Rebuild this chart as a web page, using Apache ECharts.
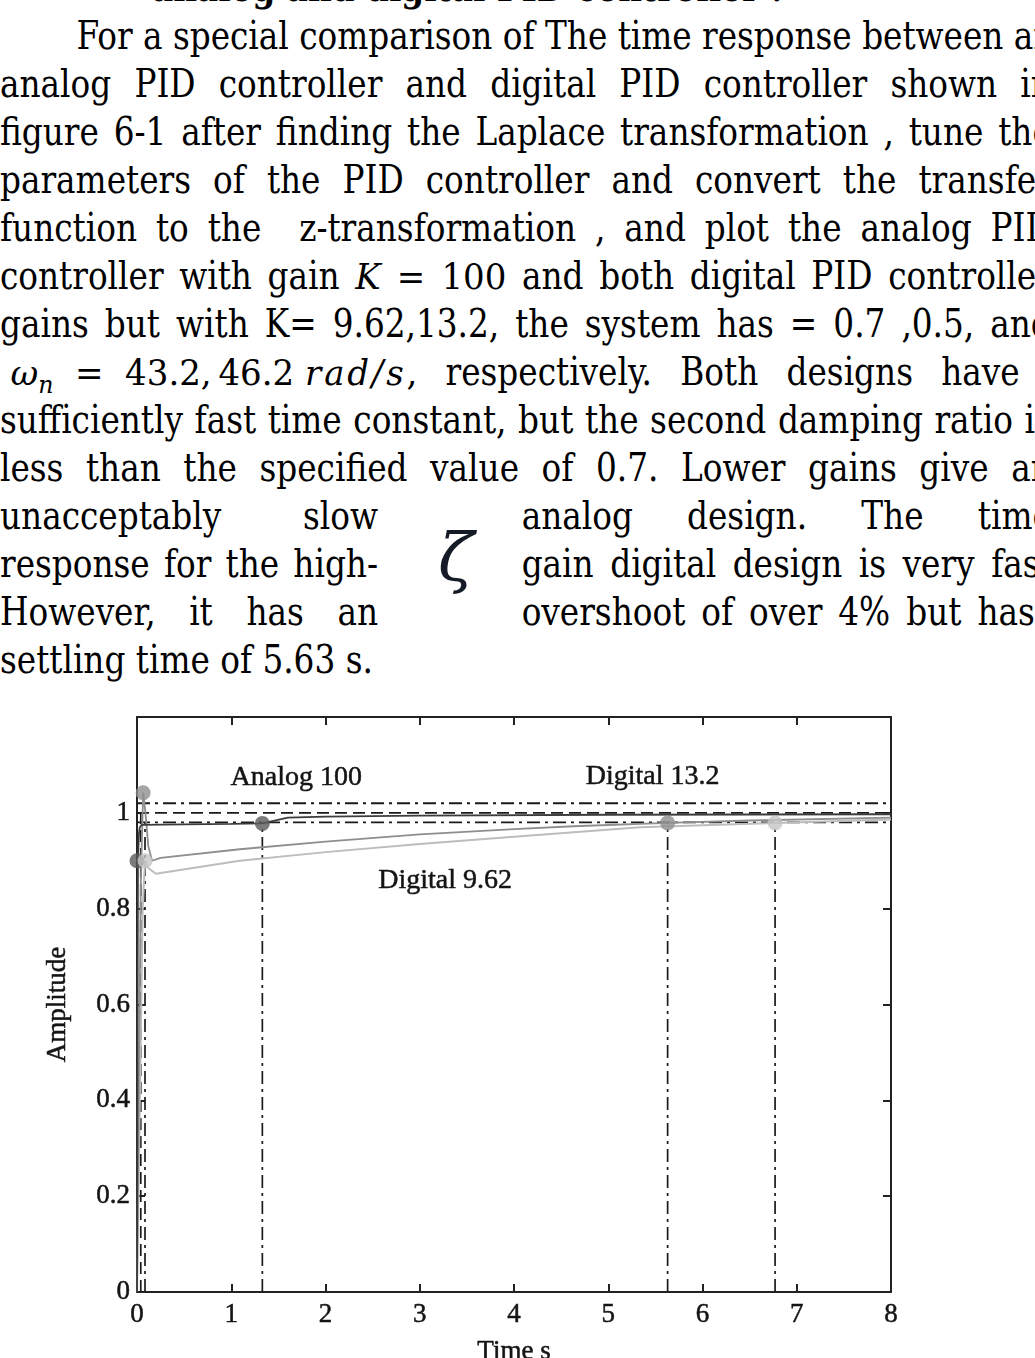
<!DOCTYPE html>
<html>
<head>
<meta charset="utf-8">
<script src="https://cdn.jsdelivr.net/npm/echarts@6/dist/echarts.min.js"></script>
<style>
html,body{margin:0;padding:0;background:#fff;}
body{width:1035px;height:1358px;overflow:hidden;position:relative;}
#head{position:absolute;left:152px;top:-36px;font-family:"DejaVu Serif Condensed","DejaVu Serif",serif;font-weight:bold;font-size:38.5px;line-height:48px;color:#000;white-space:nowrap;transform:scaleX(0.945);transform-origin:0 0;}
#txt{position:absolute;left:0;top:12px;width:1113px;font-family:"DejaVu Serif Condensed","DejaVu Serif",serif;font-size:38.5px;line-height:48px;color:#000;transform:scaleX(0.945);transform-origin:0 0;}
.l{height:48px;overflow:hidden;text-align:justify;text-align-last:justify;}
.nat{text-align:left;text-align-last:left;white-space:nowrap;}
.m{font-family:"DejaVu Serif",serif;font-size:36px;}
.mb{display:inline-block;white-space:nowrap;}
.m i{font-style:italic;}
.rs{letter-spacing:3px;}
.cols{display:flex;height:48px;overflow:hidden;}
.cl{width:400px;text-align:justify;text-align-last:justify;}
.cr{flex:1;margin-left:152px;text-align:justify;text-align-last:justify;}
.plain{height:48px;}
#zeta{position:absolute;left:438px;top:518px;font-family:"DejaVu Serif",serif;font-style:italic;font-size:66px;line-height:80px;color:#141a26;}
#chart{position:absolute;left:0;top:690px;width:1035px;height:668px;}
</style>
</head>
<body>
<div id="head">analog and digital PID controller :</div>
<div id="txt">
<div class="l nat" style="padding-left:81px">For a special comparison of The time response between an</div>
<div class="l">analog PID controller and digital PID controller shown in</div>
<div class="l">figure 6-1 after finding the Laplace transformation , tune the</div>
<div class="l">parameters of the PID controller and convert the transfer</div>
<div class="l">function to the&nbsp; z-transformation , and plot the analog PID</div>
<div class="l">controller with gain <span class="m"><i>K</i> = 100</span> and both digital PID controller</div>
<div class="l">gains but with K= 9.62,13.2, the system has = 0.7 ,0.5, and</div>
<div class="l" style="padding-left:11px;padding-right:34px"><span class="m mb"><i>ω<sub style="font-size:25px">n</sub></i>&nbsp; =&nbsp; 43.2,&#8201;46.2&nbsp;<i class="rs">rad/s</i>,</span> respectively. Both designs have</div>
<div class="l">sufficiently fast time constant, but the second damping ratio is</div>
<div class="l">less than the specified value of 0.7. Lower gains give an</div>
<div class="cols"><div class="cl">unacceptably slow</div><div class="cr">analog design. The time</div></div>
<div class="cols"><div class="cl">response for the high-</div><div class="cr" style="margin-right:-12px">gain digital design is very fast.</div></div>
<div class="cols"><div class="cl">However, it has an</div><div class="cr" style="margin-right:18px">overshoot of over 4% but has</div></div>
<div class="plain">settling time of 5.63 s.</div>
</div>
<div id="zeta">ζ</div>
<div id="chart"></div>
<script>
// ---- data ----
const xTickValues = [0, 1, 2, 3, 4, 5, 6, 7, 8];
const xTickLabels = ['0', '1', '2', '3', '4', '5', '6', '7', '8'];
const yTickValues = [0, 0.2, 0.4, 0.6, 0.8, 1];
const yTickLabels = ['0', '0.2', '0.4', '0.6', '0.8', '1'];

// Analog 100
const analogT = [0, 0.005, 0.01, 0.02, 0.03, 0.05, 0.5, 1.0, 1.33, 1.6, 2, 3, 5, 8];
const analogA = [0, 0.5, 0.9, 0.955, 0.97, 0.975, 0.976, 0.977, 0.978, 0.99, 0.992, 0.994, 0.996, 0.997];
// Digital 13.2
const d132T = [0, 0.02, 0.04, 0.065, 0.09, 0.12, 0.16, 0.25, 1.09, 2, 3, 4, 4.63, 5.63, 6.5, 8];
const d132A = [0, 0.45, 0.85, 1.042, 1.0, 0.93, 0.9, 0.906, 0.924, 0.94, 0.955, 0.966, 0.972, 0.979, 0.984, 0.99];
// Digital 9.62
const d962T = [0, 0.03, 0.06, 0.085, 0.12, 0.2, 1.09, 2, 3, 4, 5.34, 6.77, 8];
const d962A = [0, 0.4, 0.8, 0.9, 0.885, 0.873, 0.9, 0.918, 0.935, 0.95, 0.97, 0.979, 0.986];

// characteristic markers
const analogMarkT = [0, 1.33];
const analogMarkA = [0.9, 0.978];
const d132MarkT = [0.065, 5.63];
const d132MarkA = [1.042, 0.979];
const d962MarkT = [0.085, 6.77];
const d962MarkA = [0.9, 0.979];

// settling band levels
const bandLevels = [1.02, 1.0, 0.98];
const bandDashed = [false, true, false];

// vertical guide lines (time, top amplitude)
const guideT = [0.04, 0.085, 1.33, 5.63, 6.77];
const guideTop = [1.0, 0.98, 0.978, 0.979, 0.979];
const guideDashed = [true, false, false, false, false];

// curve annotations
const annotNames = ['Analog 100', 'Digital 13.2', 'Digital 9.62'];
const annotT = [1.69, 5.47, 3.27];
const annotA = [1.073, 1.075, 0.858];

// ---- chart ----
const zip = (a, b) => a.map((v, i) => [v, b[i]]);
const FONT = '"Liberation Serif","Times New Roman",serif';
const TXT = '#141414';
const DASHDOT = [13, 5, 3, 5];
const DASH = [12, 6];
const boldish = { textBorderColor: TXT, textBorderWidth: 0.5 };

const series = [];
bandLevels.forEach((lv, i) => {
  series.push({
    type: 'line', data: [[0, lv], [8, lv]], symbol: 'none', silent: true,
    lineStyle: { color: '#1a1a1a', width: 1.8, type: bandDashed[i] ? DASH : DASHDOT }, z: 2
  });
});
guideT.forEach((t, i) => {
  series.push({
    type: 'line', data: [[t, 0], [t, guideTop[i]]], symbol: 'none', silent: true,
    lineStyle: { color: '#1a1a1a', width: 1.7, type: guideDashed[i] ? DASH : DASHDOT }, z: 2
  });
});
series.push({ type: 'line', name: 'Digital 9.62', data: zip(d962T, d962A), symbol: 'none',
  lineStyle: { color: '#bdbdbd', width: 2 }, z: 3 });
series.push({ type: 'line', name: 'Digital 13.2', data: zip(d132T, d132A), symbol: 'none',
  lineStyle: { color: '#8e8e8e', width: 1.8 }, z: 3 });
series.push({ type: 'line', name: 'Analog 100', data: zip(analogT, analogA), symbol: 'none',
  lineStyle: { color: '#3c3c3c', width: 1.8 }, z: 4 });
series.push({ type: 'scatter', data: zip(analogMarkT, analogMarkA), symbolSize: 15,
  itemStyle: { color: '#5a5a5a' }, z: 6 });
series.push({ type: 'scatter', data: zip(d132MarkT, d132MarkA), symbolSize: 15,
  itemStyle: { color: '#8f8f8f' }, z: 6 });
series.push({ type: 'scatter', data: zip(d962MarkT, d962MarkA), symbolSize: 15,
  itemStyle: { color: '#c6c6c6' }, z: 6 });
series.push({
  type: 'scatter', symbolSize: 0.1, itemStyle: { color: TXT, opacity: 1 }, silent: true, z: 7,
  data: annotNames.map((n, i) => ({ name: n, value: [annotT[i], annotA[i]] })),
  label: Object.assign({ show: true, position: 'inside', formatter: '{b}', fontFamily: FONT, fontSize: 28, color: TXT, opacity: 1 }, boldish)
});

const axisLineStyle = { color: '#222', width: 2 };
const tickFmtX = v => { const i = xTickValues.findIndex(x => Math.abs(x - v) < 1e-6); return i < 0 ? '' : xTickLabels[i]; };
const tickFmtY = v => { const i = yTickValues.findIndex(x => Math.abs(x - v) < 1e-6); return i < 0 ? '' : yTickLabels[i]; };

const chart = echarts.init(document.getElementById('chart'), null, { renderer: 'canvas' });
chart.setOption({
  animation: false,
  backgroundColor: '#fff',
  grid: { left: 137, right: 144, top: 27, bottom: 66, containLabel: false, outerBoundsMode: 'none' },
  xAxis: [
    { type: 'value', min: 0, max: 8, interval: 1, position: 'bottom',
      axisLine: { show: true, lineStyle: axisLineStyle },
      axisTick: { show: true, inside: true, length: 8, lineStyle: axisLineStyle },
      axisLabel: Object.assign({ formatter: tickFmtX, fontFamily: FONT, fontSize: 27, color: TXT, margin: 9 }, boldish),
      splitLine: { show: false },
      name: 'Time s', nameLocation: 'middle', nameGap: 46,
      nameTextStyle: Object.assign({ fontFamily: FONT, fontSize: 27, color: TXT }, boldish) },
    { type: 'value', min: 0, max: 8, interval: 1, position: 'top',
      axisLine: { show: true, onZero: false, lineStyle: axisLineStyle },
      axisTick: { show: true, inside: true, length: 8, lineStyle: axisLineStyle },
      axisLabel: { show: false }, splitLine: { show: false } }
  ],
  yAxis: [
    { type: 'value', min: 0, max: 1.2, interval: 0.2, position: 'left',
      axisLine: { show: true, lineStyle: axisLineStyle },
      axisTick: { show: true, inside: true, length: 8, lineStyle: axisLineStyle },
      axisLabel: Object.assign({ formatter: tickFmtY, fontFamily: FONT, fontSize: 27, color: TXT, margin: 7 }, boldish),
      splitLine: { show: false },
      name: 'Amplitude', nameLocation: 'middle', nameGap: 66, nameRotate: 90,
      nameTextStyle: Object.assign({ fontFamily: FONT, fontSize: 27, color: TXT }, boldish) },
    { type: 'value', min: 0, max: 1.2, interval: 0.2, position: 'right',
      axisLine: { show: true, onZero: false, lineStyle: axisLineStyle },
      axisTick: { show: true, inside: true, length: 8, lineStyle: axisLineStyle },
      axisLabel: { show: false }, splitLine: { show: false } }
  ],
  series: series
});
</script>
</body>
</html>
